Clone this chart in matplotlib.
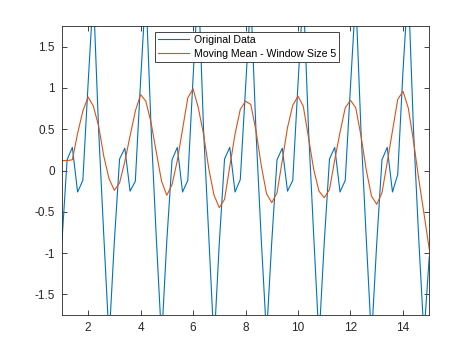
import matplotlib

matplotlib.use("Agg")

import matplotlib.pyplot as plt
import numpy as np

plt.rcParams["font.family"] = ["Liberation Sans", "DejaVu Sans"]

# sample positions (step 0.2 from 1 to 15)
t = np.round(np.arange(1.0, 15.0001, 0.2), 1)

original = [
    -0.88, 0.13, 0.28, -0.26, -0.12, 1.05, 2.15, 0.50, -0.80, -2.05,
    -0.86, 0.14, 0.27, -0.25, -0.13, 1.08, 2.20, 0.52, -0.82, -2.05,
    -0.85, 0.13, 0.28, -0.26, -0.12, 1.12, 2.30, 0.50, -0.80, -2.10,
    -0.88, 0.14, 0.28, -0.26, -0.11, 1.00, 2.10, 0.46, -0.84, -2.00,
    -0.86, 0.13, 0.27, -0.25, -0.12, 1.05, 2.18, 0.50, -0.80, -2.05,
    -0.87, 0.14, 0.28, -0.26, -0.12, 1.02, 2.12, 0.48, -0.82, -2.05,
    -0.88, 0.13, 0.28, -0.26, -0.05, 1.20, 2.25, 0.50, -0.82, -2.00,
    -1.05,
]

moving_mean = [
    0.12, 0.12, 0.13, 0.45, 0.72, 0.89, 0.78, 0.54, 0.17, -0.10,
    -0.24, -0.15, 0.11, 0.42, 0.72, 0.92, 0.84, 0.58, 0.22, -0.13,
    -0.30, -0.17, 0.12, 0.50, 0.88, 0.99, 0.76, 0.44, 0.02, -0.30,
    -0.45, -0.35, 0.05, 0.44, 0.74, 0.84, 0.80, 0.48, 0.06, -0.28,
    -0.39, -0.27, 0.12, 0.52, 0.79, 0.90, 0.78, 0.40, 0.01, -0.25,
    -0.33, -0.23, 0.13, 0.46, 0.76, 0.85, 0.76, 0.42, 0.01, -0.31,
    -0.41, -0.27, 0.10, 0.48, 0.86, 0.96, 0.76, 0.36, -0.10, -0.52,
    -0.95,
]

x_ticks = [2, 4, 6, 8, 10, 12, 14]
y_ticks = [-1.5, -1, -0.5, 0, 0.5, 1, 1.5]
y_labels = ["-1.5", "-1", "-0.5", "0", "0.5", "1", "1.5"]

fig = plt.figure(figsize=(4.74, 3.55), dpi=100)
ax = fig.add_axes([0.1305, 0.1127, 0.775, 0.814])

ax.plot(t, original, color="#0072BD", linewidth=0.8, label="Original Data")
ax.plot(t, moving_mean, color="#D95319", linewidth=0.8, label="Moving Mean - Window Size 5")

ax.set_xlim(1, 15)
ax.set_ylim(-1.75, 1.75)
ax.set_xticks(x_ticks)
ax.set_xticklabels([str(v) for v in x_ticks])
ax.set_yticks(y_ticks)
ax.set_yticklabels(y_labels)

axis_color = "#262626"
for spine in ax.spines.values():
    spine.set_color(axis_color)
    spine.set_linewidth(0.6)
ax.tick_params(
    direction="in",
    length=3.5,
    width=0.6,
    color=axis_color,
    labelcolor=axis_color,
    labelsize=8.5,
    top=True,
    right=True,
    pad=5,
)

leg = ax.legend(
    loc="upper left",
    bbox_to_anchor=(155 / 474, 1 - 32 / 355),
    bbox_transform=fig.transFigure,
    fontsize=7.6,
    fancybox=False,
    framealpha=1,
    edgecolor=axis_color,
    borderpad=0.3,
    borderaxespad=0,
    handlelength=2.9,
    handletextpad=0.5,
    labelspacing=0.35,
)
leg.get_frame().set_linewidth(0.6)
for txt in leg.get_texts():
    txt.set_color("#000000")

fig.savefig("out.png", dpi=100, facecolor="white")
